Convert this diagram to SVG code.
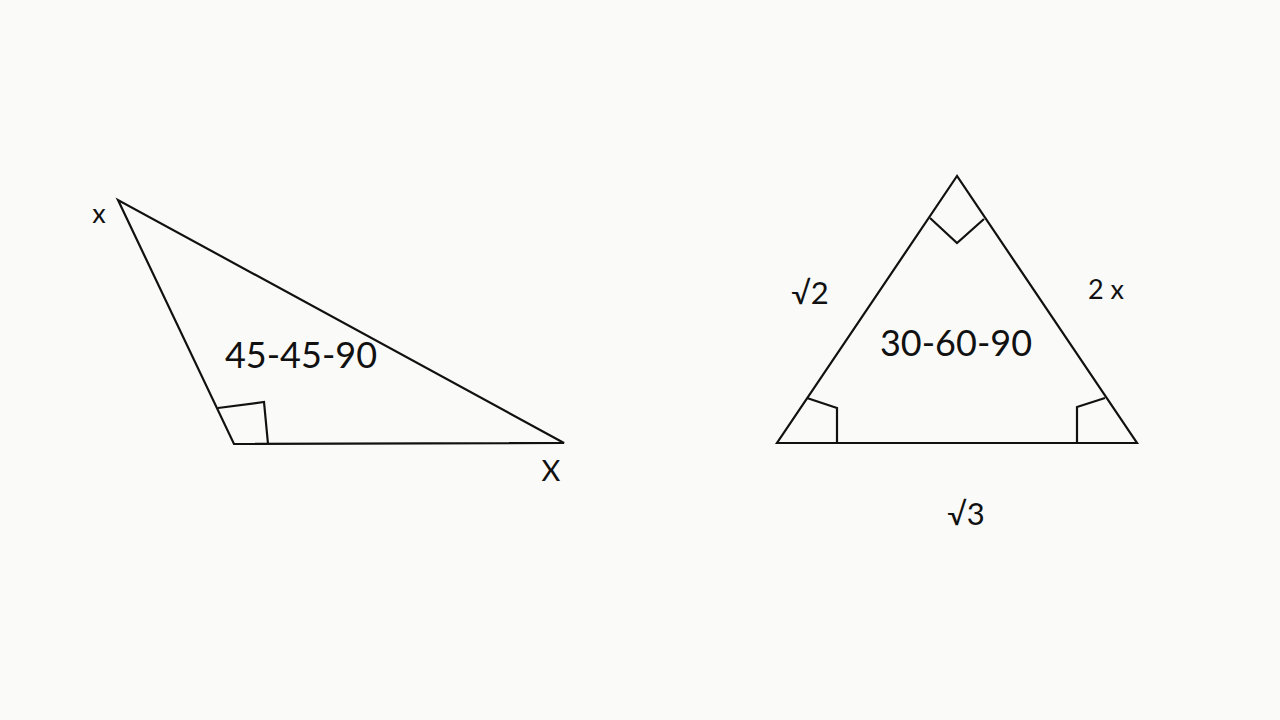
<svg xmlns="http://www.w3.org/2000/svg" width="1280" height="720" viewBox="0 0 1280 720">
<style>
.ln{fill:none;stroke:#111;stroke-width:2.2;stroke-linejoin:miter}
.t{font-family:"Lato","Liberation Sans",sans-serif;fill:#111}
</style>
<rect width="1280" height="720" fill="#fafaf8"/>
<g id="tri-45">
<polygon class="ln" points="118,200 234,444 564,443"/>
<polyline class="ln" points="218,408 264,402 268,444"/>
<text class="t" x="301" y="368" font-size="36" text-anchor="middle">45-45-90</text>
<text class="t" x="99" y="223" font-size="27" text-anchor="middle">x</text>
<text class="t" x="551" y="481" font-size="29" text-anchor="middle">X</text>
</g>
<g id="tri-30">
<polygon class="ln" points="957,176 777,443 1137,443"/>
<polyline class="ln" points="930,218 957,243 984,219"/>
<polyline class="ln" points="807,398 837,408 837,443"/>
<polyline class="ln" points="1105,398 1077,407 1077,443"/>
<text class="t" x="956" y="356" font-size="36" text-anchor="middle">30-60-90</text>
<text class="t" x="810" y="304" font-size="31" text-anchor="middle">√2</text>
<text class="t" x="1106" y="299" font-size="27" text-anchor="middle">2 x</text>
<text class="t" x="966" y="525" font-size="31" text-anchor="middle">√3</text>
</g>
</svg>
